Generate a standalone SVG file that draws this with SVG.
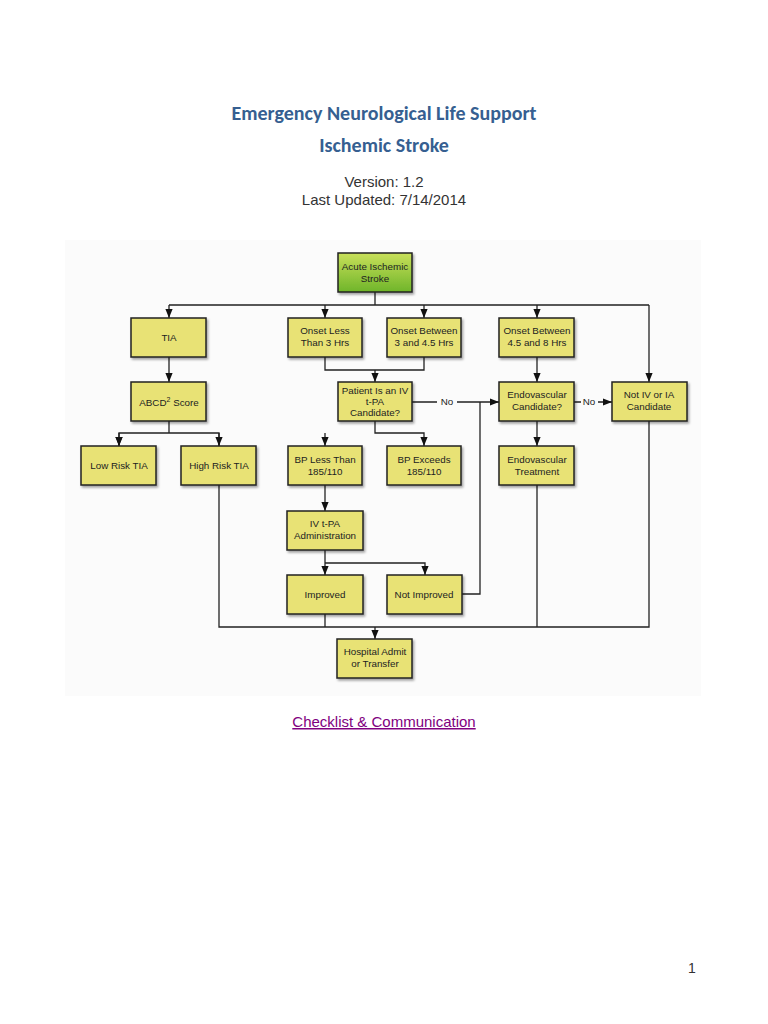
<svg xmlns="http://www.w3.org/2000/svg" width="768" height="1024" viewBox="0 0 768 1024">
<style>
.b{fill:#e8e274;stroke:#222;stroke-width:1.5}
.t{font-family:"Liberation Sans",Arial,sans-serif;font-size:9.8px;fill:#222;text-anchor:middle}
.c{fill:none;stroke:#222;stroke-width:1.3}
</style>
<defs>
<marker id="a" viewBox="0 0 10 10" refX="10" refY="5" markerWidth="7" markerHeight="7" orient="auto"><path d="M0,1 L10,5 L0,9z" fill="#111"/></marker>
<linearGradient id="g" x1="0" y1="0" x2="0" y2="1"><stop offset="0" stop-color="#c9e05a"/><stop offset="1" stop-color="#6fb52a"/></linearGradient>
<filter id="s" x="-10%" y="-10%" width="130%" height="140%"><feDropShadow dx="1.5" dy="2" stdDeviation="1.2" flood-color="#000" flood-opacity="0.35"/></filter>
</defs>
<rect width="768" height="1024" fill="#fff"/>
<rect x="65" y="240" width="636" height="456" fill="#fbfbfb"/>
<text x="384" y="120" font-family="Carlito,'Liberation Sans',sans-serif" font-size="20" font-weight="bold" fill="#365f91" text-anchor="middle">Emergency Neurological Life Support</text>
<text x="384" y="152" font-family="Carlito,'Liberation Sans',sans-serif" font-size="20" font-weight="bold" fill="#365f91" text-anchor="middle">Ischemic Stroke</text>
<text x="384" y="187" font-family="'Liberation Sans',Arial,sans-serif" font-size="15" fill="#333" text-anchor="middle">Version: 1.2</text>
<text x="384" y="205" font-family="'Liberation Sans',Arial,sans-serif" font-size="15" fill="#333" text-anchor="middle">Last Updated: 7/14/2014</text>
<g id="connectors">
<path class="c" d="M375,292 V305 M169,305 H649" />
<path class="c" d="M169,305 V318" marker-end="url(#a)"/>
<path class="c" d="M325,305 V318" marker-end="url(#a)"/>
<path class="c" d="M424,305 V318" marker-end="url(#a)"/>
<path class="c" d="M537,305 V318" marker-end="url(#a)"/>
<path class="c" d="M649,305 V382" marker-end="url(#a)"/>
<path class="c" d="M169,357 V382" marker-end="url(#a)"/>
<path class="c" d="M325,357 V370 H424 V357 M375,370 V382" marker-end="url(#a)"/>
<path class="c" d="M169,421 V433 H219 V446 M169,433 H119 V446" marker-end="url(#a)"/>
<path class="c" d="M219,433 V446" marker-end="url(#a)"/>
<path class="c" d="M119,433 V446" marker-end="url(#a)"/>
<path class="c" d="M375,421 V433 H424 V446" marker-end="url(#a)"/>
<path class="c" d="M325,433 V446" marker-end="url(#a)"/>
<path class="c" d="M412,402 H437 M457,402 H499" marker-end="url(#a)"/>
<path class="c" d="M537,357 V382" marker-end="url(#a)"/>
<path class="c" d="M537,421 V446" marker-end="url(#a)"/>
<path class="c" d="M574,402 H581 M598,402 H612" marker-end="url(#a)"/>
<path class="c" d="M325,485 V511" marker-end="url(#a)"/>
<path class="c" d="M325,550 V575" marker-end="url(#a)"/>
<path class="c" d="M325,563 H425 V575" marker-end="url(#a)"/>
<path class="c" d="M462,594 H480 V402"/>
<path class="c" d="M219,485 V627 H649 V421 M325,614 V627 M537,485 V627"/>
<path class="c" d="M375,627 V639" marker-end="url(#a)"/>
<text x="447" y="405" class="t">No</text>
<text x="589" y="405" class="t">No</text>
</g>
<g id="acute"><rect x="338" y="253" width="74" height="39" fill="url(#g)" stroke="#222" stroke-width="1.5" filter="url(#s)"/><text class="t" x="375" y="270">Acute Ischemic</text><text class="t" x="375" y="282">Stroke</text></g>
<g id="tia"><rect class="b" x="131" y="318" width="75" height="39" filter="url(#s)"/><text class="t" x="169" y="341">TIA</text></g>
<g id="onset3"><rect class="b" x="288" y="318" width="74" height="39" filter="url(#s)"/><text class="t" x="325" y="334">Onset Less</text><text class="t" x="325" y="346">Than 3 Hrs</text></g>
<g id="onset45"><rect class="b" x="387" y="318" width="74" height="39" filter="url(#s)"/><text class="t" x="424" y="334">Onset Between</text><text class="t" x="424" y="346">3 and 4.5 Hrs</text></g>
<g id="onset8"><rect class="b" x="499" y="318" width="75" height="39" filter="url(#s)"/><text class="t" x="537" y="334">Onset Between</text><text class="t" x="537" y="346">4.5 and 8 Hrs</text></g>
<g id="abcd"><rect class="b" x="131" y="382" width="75" height="39" filter="url(#s)"/><text class="t" x="169" y="406">ABCD<tspan font-size="7" dy="-4">2</tspan><tspan dy="4"> Score</tspan></text></g>
<g id="patient"><rect class="b" x="338" y="382" width="74" height="39" filter="url(#s)"/><text class="t" x="375" y="394">Patient Is an IV</text><text class="t" x="375" y="405">t-PA</text><text class="t" x="375" y="416">Candidate?</text></g>
<g id="endocand"><rect class="b" x="499" y="382" width="75" height="39" filter="url(#s)"/><text class="t" x="537" y="398">Endovascular</text><text class="t" x="537" y="410">Candidate?</text></g>
<g id="notiv"><rect class="b" x="612" y="382" width="75" height="39" filter="url(#s)"/><text class="t" x="649" y="398">Not IV or IA</text><text class="t" x="649" y="410">Candidate</text></g>
<g id="low"><rect class="b" x="81" y="446" width="75" height="39" filter="url(#s)"/><text class="t" x="119" y="469">Low Risk TIA</text></g>
<g id="high"><rect class="b" x="181" y="446" width="75" height="39" filter="url(#s)"/><text class="t" x="219" y="469">High Risk TIA</text></g>
<g id="bpless"><rect class="b" x="288" y="446" width="74" height="39" filter="url(#s)"/><text class="t" x="325" y="463">BP Less Than</text><text class="t" x="325" y="475">185/110</text></g>
<g id="bpex"><rect class="b" x="387" y="446" width="74" height="39" filter="url(#s)"/><text class="t" x="424" y="463">BP Exceeds</text><text class="t" x="424" y="475">185/110</text></g>
<g id="endotx"><rect class="b" x="499" y="446" width="75" height="39" filter="url(#s)"/><text class="t" x="537" y="463">Endovascular</text><text class="t" x="537" y="475">Treatment</text></g>
<g id="ivtpa"><rect class="b" x="287" y="511" width="76" height="39" filter="url(#s)"/><text class="t" x="325" y="527">IV t-PA</text><text class="t" x="325" y="539">Administration</text></g>
<g id="improved"><rect class="b" x="287" y="575" width="76" height="39" filter="url(#s)"/><text class="t" x="325" y="598">Improved</text></g>
<g id="notimproved"><rect class="b" x="387" y="575" width="75" height="39" filter="url(#s)"/><text class="t" x="424" y="598">Not Improved</text></g>
<g id="hospital"><rect class="b" x="337" y="639" width="75" height="39" filter="url(#s)"/><text class="t" x="375" y="655">Hospital Admit</text><text class="t" x="375" y="667">or Transfer</text></g>
<text x="384" y="727" font-family="'Liberation Sans',Arial,sans-serif" font-size="15" fill="#800080" text-anchor="middle" text-decoration="underline">Checklist &amp; Communication</text>
<text x="692" y="973" font-family="'Liberation Sans',Arial,sans-serif" font-size="14" fill="#333" text-anchor="middle">1</text>
</svg>
